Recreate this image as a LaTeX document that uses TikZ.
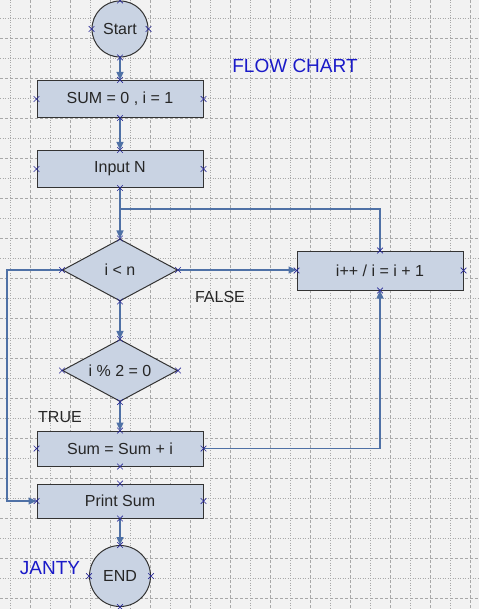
\documentclass[tikz,border=0pt]{standalone}
\usepackage{fontspec}
\setmainfont{Liberation Sans}
\usetikzlibrary{shapes.geometric,shapes.misc,arrows.meta}
\definecolor{paper}{RGB}{242,242,242}
\definecolor{gridgray}{RGB}{168,168,168}
\definecolor{boxfill}{RGB}{201,211,227}
\definecolor{flowline}{RGB}{79,113,166}
\definecolor{titleblue}{RGB}{26,26,200}
\definecolor{markblue}{RGB}{40,40,150}
\tikzstyle{chartshape}=[draw=black!80,fill=boxfill,line width=1pt,inner sep=0pt,text=black!85,font=\fontsize{16}{18}\selectfont]
\tikzstyle{block}=[chartshape,minimum width=166pt,minimum height=37pt]
\tikzstyle{terminal}=[chartshape,circle]
\tikzstyle{decision}=[chartshape,diamond,minimum width=115pt,minimum height=62pt]
\tikzstyle{flow}=[draw=flowline,line width=1.2pt,-{Triangle[length=8pt,width=7pt]}]
\tikzstyle{link}=[draw=flowline,line width=1.2pt]
\tikzstyle{cpt}=[draw=markblue,cross out,minimum size=5pt,inner sep=0pt,line width=0.7pt]
\tikzstyle{caption}=[text=black!85,font=\fontsize{16}{18}\selectfont]
\tikzstyle{title}=[text=titleblue,font=\fontsize{19}{21}\selectfont]

\begin{document}
\begin{tikzpicture}[x=1pt,y=-1pt]
      \useasboundingbox (0,0) rectangle (479,609);
      \fill[paper] (0,0) rectangle (479,609);
      \foreach \x in {10,50,...,450}{
        \draw[gridgray,line width=0.7pt,dash pattern=on 1pt off 1.5pt] (\x,0) -- (\x,609);
      }
      \foreach \x in {30,70,...,470}{
        \draw[gridgray,line width=0.7pt,dash pattern=on 3pt off 2pt] (\x,0) -- (\x,609);
      }
      \foreach \y in {18,58,...,578}{
        \draw[gridgray,line width=0.7pt,dash pattern=on 1pt off 1.5pt] (0,\y) -- (479,\y);
      }
      \foreach \y in {38,78,...,598}{
        \draw[gridgray,line width=0.7pt,dash pattern=on 3pt off 2pt] (0,\y) -- (479,\y);
      }

      \node[terminal,minimum size=56pt] (start) at (120,29) {Start};
      \node[block] (init) at (120,99) {SUM = 0 , i = 1};
      \node[block] (input) at (120,169) {Input N};
      \node[decision,label={[caption]center:i < n}] (lt) at (120,270) {};
      \node[block,minimum height=39pt] (inc) at (380,270.5) {i++ / i = i + 1};
      \node[decision,label={[caption]center:i \% 2 = 0}] (mod) at (120,370.5) {};
      \node[block,minimum height=35pt] (sum) at (120,448.5) {Sum = Sum + i};
      \node[block,minimum height=34pt] (print) at (120,501) {Print Sum};
      \node[terminal,minimum size=61pt] (end) at (120,576) {END};

      \node[caption] (false) at (220,297) {FALSE};
      \node[caption] (true) at (60,417) {TRUE};
      \node[title] (chart) at (295,66) {FLOW CHART};
      \node[title] (janty) at (50,568) {JANTY};

      \coordinate (loop) at (120,209);
      \coordinate (side) at (7,270);

      \draw[flow] (start) -- (init);
      \draw[flow] (init) -- (input);
      \draw[flow] (input) -- (lt);
      \draw[link] (inc.north) |- (loop);
      \draw[flow] (lt.east) -- (lt.east -| inc.west);
      \draw[flow] (lt.west) -- (side) |- (print.west);
      \draw[flow] (lt) -- (mod);
      \draw[flow] (mod) -- (sum);
      \draw[flow] (sum.east) -| (inc.south);
      \draw[flow] (print) -- (end);

      \foreach \n in {start,init,input,lt,inc,mod,sum,print,end}{
        \foreach \a in {north,south,east,west}{
          \node[cpt] at (\n.\a) {};
        }
      }
\end{tikzpicture}
\end{document}
